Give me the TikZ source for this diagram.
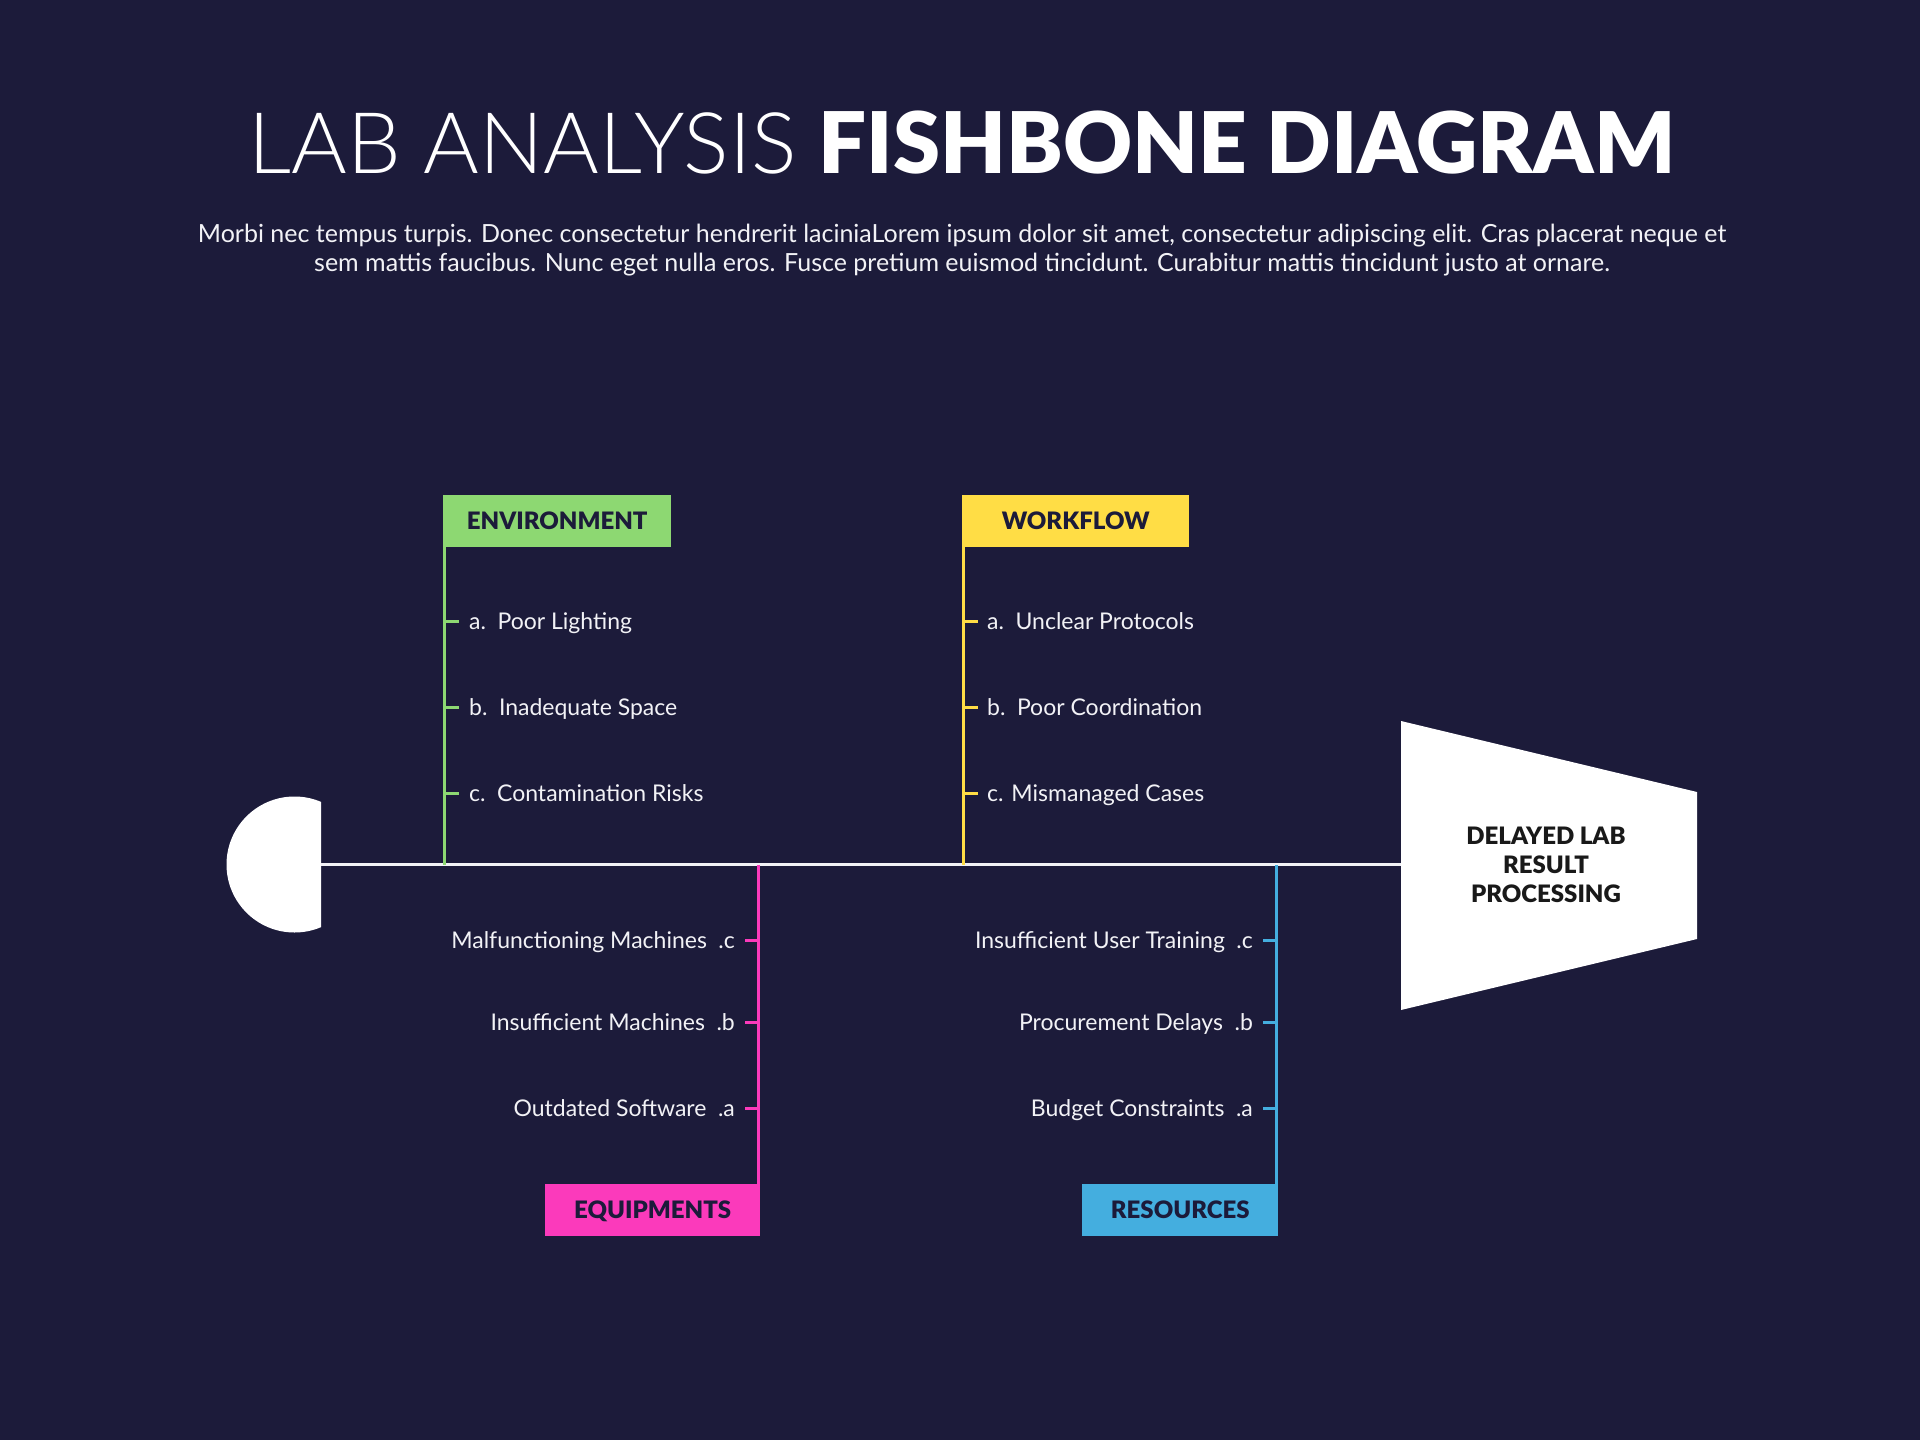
\documentclass[tikz,border=0pt]{standalone}
\usepackage{fontspec}
\setmainfont{Lato}
\newfontfamily\lightfont{Lato Light}
\newfontfamily\heavyfont{Lato Black}
\usetikzlibrary{positioning}

\definecolor{bgnavy}{HTML}{1C1B3A}
\definecolor{inkwhite}{HTML}{F2F2F6}
\definecolor{envgreen}{HTML}{8DD872}
\definecolor{flowyellow}{HTML}{FFDD45}
\definecolor{equippink}{HTML}{FB3ABB}
\definecolor{resblue}{HTML}{44AEDF}

\begin{document}
\begin{tikzpicture}[x=1pt,y=-1pt,
	bone/.style={line width=3pt},
	catbox/.style={anchor=north west, inner sep=0pt, minimum height=52pt, text height=17pt, text depth=0pt, text=bgnavy, font=\heavyfont\fontsize{24}{28}\selectfont},
	itemtxt/.style={inner sep=0pt, text=inkwhite, font=\fontsize{23}{27}\selectfont}]
		\fill[bgnavy] (0,0) rectangle (1920,1440);
		% heading
		\node[text=white, font=\fontsize{85}{95}\selectfont] (title) at (962,143) {{\lightfont LAB ANALYSIS} {\heavyfont FISHBONE DIAGRAM}};
		\node[align=center, text=inkwhite, font=\fontsize{25}{29}\selectfont] (blurb) at (962,250) {Morbi nec tempus turpis. Donec consectetur hendrerit laciniaLorem ipsum dolor sit amet, consectetur adipiscing elit. Cras placerat neque et\\sem mattis faucibus. Nunc eget nulla eros. Fusce pretium euismod tincidunt. Curabitur mattis tincidunt justo at ornare.};
		% spine, tail and head
		\coordinate (tail) at (321,864.5);
		\coordinate (mouth) at (1401,864.5);
		\begin{scope}
			\clip (200,780) rectangle (tail |- 0,950);
			\fill[white] (294.5,864.5) circle (68);
		\end{scope}
		\draw[line width=3pt, inkwhite] (tail) -- (mouth);
		\fill[white] (mouth |- 0,721) -- (1697,792) -- (1697,939) -- (mouth |- 0,1010) -- cycle;
		\node[align=center, text=black!90, font=\heavyfont\fontsize{24}{29}\selectfont] (effect) at (1546,865) {DELAYED LAB\\RESULT\\PROCESSING};
		% category boxes
		\node[catbox, fill=envgreen, minimum width=228pt] (envbox) at (443,495) {ENVIRONMENT};
		\node[catbox, fill=flowyellow, minimum width=227pt] (flowbox) at (962,495) {WORKFLOW};
		\node[catbox, fill=equippink, minimum width=215pt] (equipbox) at (545,1184) {EQUIPMENTS};
		\node[catbox, fill=resblue, minimum width=196pt] (resbox) at (1082,1184) {RESOURCES};
		% bones
		\draw[bone, envgreen] ([xshift=1.5pt]envbox.south west) -- ([xshift=1.5pt]envbox.south west |- tail);
		\draw[bone, flowyellow] ([xshift=1.5pt]flowbox.south west) -- ([xshift=1.5pt]flowbox.south west |- tail);
		\draw[bone, equippink] ([xshift=-1.5pt]equipbox.north east) -- ([xshift=-1.5pt]equipbox.north east |- tail);
		\draw[bone, resblue] ([xshift=-1.5pt]resbox.north east) -- ([xshift=-1.5pt]resbox.north east |- tail);
		% causes
		\foreach \y/\txt [count=\k] in {621/{a.\enspace Poor Lighting}, 707/{b.\enspace Inadequate Space}, 793/{c.\enspace Contamination Risks}}{
			\draw[bone, envgreen] (444.5,\y) -- ++(14,0);
			\node[itemtxt, anchor=base west] (env\k) at (469,\y+8) {\txt};
		}
		\foreach \y/\txt [count=\k] in {621/{a.\enspace Unclear Protocols}, 707/{b.\enspace Poor Coordination}, 793/{c. Mismanaged Cases}}{
			\draw[bone, flowyellow] (963.5,\y) -- ++(14,0);
			\node[itemtxt, anchor=base west] (flow\k) at (987,\y+8) {\txt};
		}
		\foreach \y/\txt [count=\k] in {1108/{Outdated Software\enspace.a}, 1022/{Insufficient Machines\enspace.b}, 940/{Malfunctioning Machines\enspace.c}}{
			\draw[bone, equippink] (758.5,\y) -- ++(-14,0);
			\node[itemtxt, anchor=base east] (equip\k) at (735,\y+8) {\txt};
		}
		\foreach \y/\txt [count=\k] in {1108/{Budget Constraints\enspace.a}, 1022/{Procurement Delays\enspace.b}, 940/{Insufficient User Training\enspace.c}}{
			\draw[bone, resblue] (1276.5,\y) -- ++(-14,0);
			\node[itemtxt, anchor=base east] (res\k) at (1253,\y+8) {\txt};
		}
	\end{tikzpicture}
\end{document}
